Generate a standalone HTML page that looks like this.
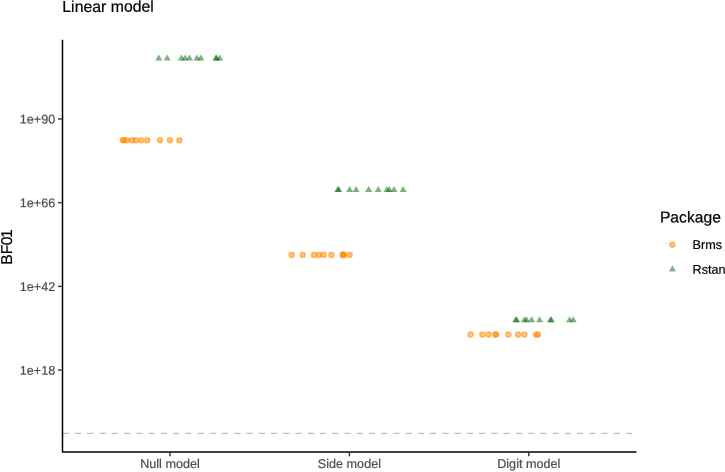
<!DOCTYPE html>
<html><head><meta charset="utf-8"><title>Linear model</title>
<style>html,body{margin:0;padding:0;background:#fff;overflow:hidden}svg{display:block}</style></head>
<body>
<svg width="725" height="472" viewBox="0 0 725 472" font-family="'Liberation Sans', Arial, Helvetica, sans-serif" text-rendering="geometricPrecision">
<rect width="725" height="472" fill="#fff"/>
<line x1="62.8" y1="433.3" x2="636.5" y2="433.3" stroke="#BEBEBE" stroke-width="1.35" stroke-dasharray="6.123 6.123"/>
<circle cx="122.90" cy="140.30" r="2.55" fill="#FF8C00" fill-opacity="0.5" stroke="#FF8C00" stroke-opacity="0.5" stroke-width="1.5"/>
<circle cx="123.90" cy="140.30" r="2.55" fill="#FF8C00" fill-opacity="0.5" stroke="#FF8C00" stroke-opacity="0.5" stroke-width="1.5"/>
<circle cx="126.90" cy="140.30" r="2.55" fill="#FF8C00" fill-opacity="0.5" stroke="#FF8C00" stroke-opacity="0.5" stroke-width="1.5"/>
<circle cx="132.10" cy="140.30" r="2.55" fill="#FF8C00" fill-opacity="0.5" stroke="#FF8C00" stroke-opacity="0.5" stroke-width="1.5"/>
<circle cx="135.80" cy="140.30" r="2.55" fill="#FF8C00" fill-opacity="0.5" stroke="#FF8C00" stroke-opacity="0.5" stroke-width="1.5"/>
<circle cx="141.00" cy="140.30" r="2.55" fill="#FF8C00" fill-opacity="0.5" stroke="#FF8C00" stroke-opacity="0.5" stroke-width="1.5"/>
<circle cx="147.20" cy="140.30" r="2.55" fill="#FF8C00" fill-opacity="0.5" stroke="#FF8C00" stroke-opacity="0.5" stroke-width="1.5"/>
<circle cx="160.00" cy="140.30" r="2.55" fill="#FF8C00" fill-opacity="0.5" stroke="#FF8C00" stroke-opacity="0.5" stroke-width="1.5"/>
<circle cx="169.80" cy="140.30" r="2.55" fill="#FF8C00" fill-opacity="0.5" stroke="#FF8C00" stroke-opacity="0.5" stroke-width="1.5"/>
<circle cx="179.30" cy="140.30" r="2.55" fill="#FF8C00" fill-opacity="0.5" stroke="#FF8C00" stroke-opacity="0.5" stroke-width="1.5"/>
<circle cx="291.70" cy="254.90" r="2.55" fill="#FF8C00" fill-opacity="0.5" stroke="#FF8C00" stroke-opacity="0.5" stroke-width="1.5"/>
<circle cx="302.80" cy="254.90" r="2.55" fill="#FF8C00" fill-opacity="0.5" stroke="#FF8C00" stroke-opacity="0.5" stroke-width="1.5"/>
<circle cx="314.10" cy="254.90" r="2.55" fill="#FF8C00" fill-opacity="0.5" stroke="#FF8C00" stroke-opacity="0.5" stroke-width="1.5"/>
<circle cx="319.00" cy="254.90" r="2.55" fill="#FF8C00" fill-opacity="0.5" stroke="#FF8C00" stroke-opacity="0.5" stroke-width="1.5"/>
<circle cx="323.50" cy="254.90" r="2.55" fill="#FF8C00" fill-opacity="0.5" stroke="#FF8C00" stroke-opacity="0.5" stroke-width="1.5"/>
<circle cx="331.40" cy="254.90" r="2.55" fill="#FF8C00" fill-opacity="0.5" stroke="#FF8C00" stroke-opacity="0.5" stroke-width="1.5"/>
<circle cx="342.90" cy="254.90" r="2.55" fill="#FF8C00" fill-opacity="0.5" stroke="#FF8C00" stroke-opacity="0.5" stroke-width="1.5"/>
<circle cx="343.30" cy="254.90" r="2.55" fill="#FF8C00" fill-opacity="0.5" stroke="#FF8C00" stroke-opacity="0.5" stroke-width="1.5"/>
<circle cx="343.60" cy="254.90" r="2.55" fill="#FF8C00" fill-opacity="0.5" stroke="#FF8C00" stroke-opacity="0.5" stroke-width="1.5"/>
<circle cx="349.60" cy="254.90" r="2.55" fill="#FF8C00" fill-opacity="0.5" stroke="#FF8C00" stroke-opacity="0.5" stroke-width="1.5"/>
<circle cx="470.60" cy="334.60" r="2.55" fill="#FF8C00" fill-opacity="0.5" stroke="#FF8C00" stroke-opacity="0.5" stroke-width="1.5"/>
<circle cx="482.30" cy="334.60" r="2.55" fill="#FF8C00" fill-opacity="0.5" stroke="#FF8C00" stroke-opacity="0.5" stroke-width="1.5"/>
<circle cx="488.50" cy="334.60" r="2.55" fill="#FF8C00" fill-opacity="0.5" stroke="#FF8C00" stroke-opacity="0.5" stroke-width="1.5"/>
<circle cx="495.30" cy="334.60" r="2.55" fill="#FF8C00" fill-opacity="0.5" stroke="#FF8C00" stroke-opacity="0.5" stroke-width="1.5"/>
<circle cx="496.10" cy="334.60" r="2.55" fill="#FF8C00" fill-opacity="0.5" stroke="#FF8C00" stroke-opacity="0.5" stroke-width="1.5"/>
<circle cx="508.40" cy="334.60" r="2.55" fill="#FF8C00" fill-opacity="0.5" stroke="#FF8C00" stroke-opacity="0.5" stroke-width="1.5"/>
<circle cx="518.20" cy="334.60" r="2.55" fill="#FF8C00" fill-opacity="0.5" stroke="#FF8C00" stroke-opacity="0.5" stroke-width="1.5"/>
<circle cx="524.40" cy="334.60" r="2.55" fill="#FF8C00" fill-opacity="0.5" stroke="#FF8C00" stroke-opacity="0.5" stroke-width="1.5"/>
<circle cx="536.20" cy="334.60" r="2.55" fill="#FF8C00" fill-opacity="0.5" stroke="#FF8C00" stroke-opacity="0.5" stroke-width="1.5"/>
<circle cx="537.90" cy="334.60" r="2.55" fill="#FF8C00" fill-opacity="0.5" stroke="#FF8C00" stroke-opacity="0.5" stroke-width="1.5"/>
<polygon points="158.80,54.40 162.31,60.48 155.29,60.48" fill="#006400" fill-opacity="0.5"/>
<polygon points="167.20,54.40 170.71,60.48 163.69,60.48" fill="#006400" fill-opacity="0.5"/>
<polygon points="181.40,54.40 184.91,60.48 177.89,60.48" fill="#006400" fill-opacity="0.5"/>
<polygon points="185.10,54.40 188.61,60.48 181.59,60.48" fill="#006400" fill-opacity="0.5"/>
<polygon points="189.50,54.40 193.01,60.48 185.99,60.48" fill="#006400" fill-opacity="0.5"/>
<polygon points="196.90,54.40 200.41,60.48 193.39,60.48" fill="#006400" fill-opacity="0.5"/>
<polygon points="200.80,54.40 204.31,60.48 197.29,60.48" fill="#006400" fill-opacity="0.5"/>
<polygon points="215.90,54.40 219.41,60.48 212.39,60.48" fill="#006400" fill-opacity="0.5"/>
<polygon points="216.50,54.40 220.01,60.48 212.99,60.48" fill="#006400" fill-opacity="0.5"/>
<polygon points="219.70,54.40 223.21,60.48 216.19,60.48" fill="#006400" fill-opacity="0.5"/>
<polygon points="337.80,185.90 341.31,191.97 334.29,191.97" fill="#006400" fill-opacity="0.5"/>
<polygon points="338.80,185.90 342.31,191.97 335.29,191.97" fill="#006400" fill-opacity="0.5"/>
<polygon points="349.70,185.90 353.21,191.97 346.19,191.97" fill="#006400" fill-opacity="0.5"/>
<polygon points="356.10,185.90 359.61,191.97 352.59,191.97" fill="#006400" fill-opacity="0.5"/>
<polygon points="368.60,185.90 372.11,191.97 365.09,191.97" fill="#006400" fill-opacity="0.5"/>
<polygon points="378.20,185.90 381.71,191.97 374.69,191.97" fill="#006400" fill-opacity="0.5"/>
<polygon points="387.00,185.90 390.51,191.97 383.49,191.97" fill="#006400" fill-opacity="0.5"/>
<polygon points="389.40,185.90 392.91,191.97 385.89,191.97" fill="#006400" fill-opacity="0.5"/>
<polygon points="394.00,185.90 397.51,191.97 390.49,191.97" fill="#006400" fill-opacity="0.5"/>
<polygon points="403.20,185.90 406.71,191.97 399.69,191.97" fill="#006400" fill-opacity="0.5"/>
<polygon points="515.70,316.20 519.21,322.27 512.19,322.27" fill="#006400" fill-opacity="0.5"/>
<polygon points="516.70,316.20 520.21,322.27 513.19,322.27" fill="#006400" fill-opacity="0.5"/>
<polygon points="524.40,316.20 527.91,322.27 520.89,322.27" fill="#006400" fill-opacity="0.5"/>
<polygon points="526.60,316.20 530.11,322.27 523.09,322.27" fill="#006400" fill-opacity="0.5"/>
<polygon points="531.60,316.20 535.11,322.27 528.09,322.27" fill="#006400" fill-opacity="0.5"/>
<polygon points="539.60,316.20 543.11,322.27 536.09,322.27" fill="#006400" fill-opacity="0.5"/>
<polygon points="550.40,316.20 553.91,322.27 546.89,322.27" fill="#006400" fill-opacity="0.5"/>
<polygon points="551.40,316.20 554.91,322.27 547.89,322.27" fill="#006400" fill-opacity="0.5"/>
<polygon points="569.50,316.20 573.01,322.27 565.99,322.27" fill="#006400" fill-opacity="0.5"/>
<polygon points="573.20,316.20 576.71,322.27 569.69,322.27" fill="#006400" fill-opacity="0.5"/>
<path d="M62.5 39.7 V451.9 H636.5" fill="none" stroke="#000" stroke-width="1.5" stroke-linejoin="round"/>
<line x1="58.10" y1="118.95" x2="61.80" y2="118.95" stroke="#333" stroke-width="1.45"/>
<text x="55.3" y="123.55" font-size="12.65" fill="#4D4D4D" text-anchor="end" transform="rotate(-0.03 55.3 123.55)" stroke="#4D4D4D" stroke-width="0.2">1e+90</text>
<line x1="58.10" y1="202.65" x2="61.80" y2="202.65" stroke="#333" stroke-width="1.45"/>
<text x="55.3" y="207.25" font-size="12.65" fill="#4D4D4D" text-anchor="end" transform="rotate(-0.03 55.3 207.25)" stroke="#4D4D4D" stroke-width="0.2">1e+66</text>
<line x1="58.10" y1="286.35" x2="61.80" y2="286.35" stroke="#333" stroke-width="1.45"/>
<text x="55.3" y="290.95" font-size="12.65" fill="#4D4D4D" text-anchor="end" transform="rotate(-0.03 55.3 290.95)" stroke="#4D4D4D" stroke-width="0.2">1e+42</text>
<line x1="58.10" y1="370.05" x2="61.80" y2="370.05" stroke="#333" stroke-width="1.45"/>
<text x="55.3" y="374.65" font-size="12.65" fill="#4D4D4D" text-anchor="end" transform="rotate(-0.03 55.3 374.65)" stroke="#4D4D4D" stroke-width="0.2">1e+18</text>
<line x1="170.0" y1="452.60" x2="170.0" y2="456.30" stroke="#333" stroke-width="1.45"/>
<text x="170.0" y="468.00" font-size="12.65" fill="#4D4D4D" text-anchor="middle" transform="rotate(-0.03 170.0 468.00)" stroke="#4D4D4D" stroke-width="0.2">Null model</text>
<line x1="349.4" y1="452.60" x2="349.4" y2="456.30" stroke="#333" stroke-width="1.45"/>
<text x="349.4" y="468.00" font-size="12.65" fill="#4D4D4D" text-anchor="middle" transform="rotate(-0.03 349.4 468.00)" stroke="#4D4D4D" stroke-width="0.2">Side model</text>
<line x1="528.8" y1="452.60" x2="528.8" y2="456.30" stroke="#333" stroke-width="1.45"/>
<text x="528.8" y="468.00" font-size="12.65" fill="#4D4D4D" text-anchor="middle" transform="rotate(-0.03 528.8 468.00)" stroke="#4D4D4D" stroke-width="0.2">Digit model</text>
<text x="62.3" y="11.90" font-size="15.85" fill="#000" text-anchor="start" transform="rotate(-0.03 62.3 11.90)" stroke="#000" stroke-width="0.2">Linear model</text>
<text transform="translate(12.2,264.8) rotate(-90)" font-size="15.7" fill="#000" stroke="#000" stroke-width="0.2" dx="0 0 -0.5 -1.6">BF01</text>
<text x="659.9" y="222.60" font-size="15.7" fill="#000" text-anchor="start" transform="rotate(-0.03 659.9 222.60)" stroke="#000" stroke-width="0.2">Package</text>
<circle cx="672.40" cy="244.75" r="2.55" fill="#FF8C00" fill-opacity="0.5" stroke="#FF8C00" stroke-opacity="0.5" stroke-width="1.5"/>
<polygon points="672.40,265.32 675.91,271.39 668.89,271.39" fill="#006400" fill-opacity="0.5"/>
<text x="692.5" y="249.10" font-size="12.65" fill="#000" text-anchor="start" transform="rotate(-0.03 692.5 249.10)" stroke="#000" stroke-width="0.2">Brms</text>
<text x="692.5" y="273.70" font-size="12.65" fill="#000" text-anchor="start" transform="rotate(-0.03 692.5 273.70)" stroke="#000" stroke-width="0.2">Rstan</text>
</svg>
</body></html>
